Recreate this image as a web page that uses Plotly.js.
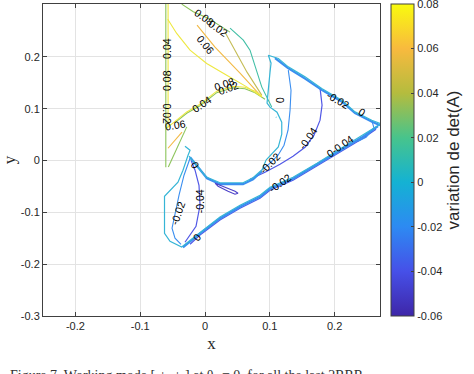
<!DOCTYPE html>
<html>
<head>
<meta charset="utf-8">
<script src="https://cdn.plot.ly/plotly-3.0.1.min.js"></script>
<style>html,body{margin:0;padding:0;background:#fff;}#chart{width:474px;height:374px;}</style>
</head>
<body>
<div id="chart"></div>
<script>
// ---- contour lines (data units, null = break) ----
const lvl008_x = [-0.057,-0.057,-0.059, null, -0.0575,-0.0437,-0.0231,0.0026,0.0335,0.0644,0.0875, null, -0.0591,-0.0463,-0.0282,-0.0077,0.0181,0.0432,0.0617,0.0772,0.088];
const lvl008_y = [0.302,0.065,0.0624, null, 0.2725,0.2452,0.2129,0.1873,0.1647,0.1421,0.1228, null, 0.0624,0.0759,0.0938,0.1087,0.1338,0.1434,0.1415,0.1338,0.1241];

const lvl006_x = [-0.0123,0.0154,0.054,0.0875, null, -0.0571,-0.0463,-0.0355];
const lvl006_y = [0.2612,0.2187,0.1685,0.1228, null, 0.0237,0.0392,0.0546];

const lvl004_x = [0.0309,0.0478,0.0648,0.0875];
const lvl004_y = [0.2477,0.2091,0.1705,0.1261];

const lvl002_x = [-0.0605,-0.0605, null, -0.0566,-0.0448,-0.034,-0.0282, null, -0.036,-0.0181,0.0046,0.0335,0.0386, null, -0.0463,-0.0282,-0.0077,0.0181,0.0432,0.0617,0.0772,0.0926];
const lvl002_y = [0.302,-0.0129, null, -0.0124,0.0199,0.0488,0.0649, null, 0.3017,0.2869,0.2747,0.2516,0.2477, null, 0.073,0.0913,0.1058,0.1309,0.1405,0.1386,0.1309,0.1183];

const lvl001_x = [0.0386,0.0591,0.0694,0.0772,0.0875,0.0977,0.1029];
const lvl001_y = [0.2555,0.2322,0.2129,0.1807,0.1421,0.1164,0.1035];

const lvl000_x = [0.2701,0.2573,0.2315,0.2110,0.1801,0.1543,0.1285,0.1131,0.0977,0.1019,0.1003,0.0977,0.0957,0.1003,0.1111,0.1184,0.1184,0.1131,0.1049,0.0941, null,
  -0.0309,-0.0231,-0.0262,-0.034,-0.0417,-0.0571,-0.0625,-0.0625,-0.054,-0.036,-0.0185,-0.0077,0.0231,0.054,0.0849,0.1003,0.1358,0.1728,0.213,0.2438,0.2701, null,
  -0.0247,-0.0123,0.0015,0.0231,0.0586,0.0741,0.088,0.0941, null, 0.1096,0.1100];
const lvl000_y = [0.0714,0.0778,0.0938,0.1164,0.139,0.1614,0.1807,0.1969,0.2032,0.1878,0.1705,0.139,0.1106,0.1029,0.0932,0.074,0.0508,0.0263,0.016,0.0006, null,
  0.0276,0.0199,0.0102,-0.0187,-0.0419,-0.0612,-0.0689,-0.1403,-0.1558,-0.1668,-0.15,-0.1378,-0.1089,-0.0863,-0.067,-0.0515,-0.0322,-0.0052,0.0257,0.0488,0.0701, null,
  0.0083,-0.0110,-0.0313,-0.0429,-0.0429,-0.0332,-0.0178,0.0006, null, 0.0842,0.0832];

const lvlm002_thin_x = [0.1285,0.1327,0.1312,0.1281,0.1219,0.1127,0.1003,0.088, null, 0.2577,0.2608,0.2485,0.2361, null, -0.0231,-0.0324,-0.0401,-0.0448,-0.0509,-0.0463,-0.037];
const lvlm002_thin_y = [0.1743,0.1357,0.0971,0.0585,0.0295,0.0102,-0.0052,-0.0187, null, 0.0757,0.0624,0.045,0.0373, null, 0.0044,-0.0284,-0.067,-0.0959,-0.1307,-0.15,-0.1616];

const lvlm002_thick_x = [0.108,0.1281,0.1543,0.1806,0.2114,0.2315,0.2577,0.2701, null, -0.0231,-0.0108,0.0031,0.0231,0.0586,0.0741,0.088, null, -0.034,-0.0077,0.0231,0.054,0.0849,0.1003,0.1358,0.1728,0.213,0.2438,0.267];
const lvlm002_thick_y = [0.1975,0.1782,0.1579,0.1357,0.1135,0.0913,0.0749,0.068, null, 0.0064,-0.0129,-0.0342,-0.0457,-0.0457,-0.0361,-0.0207, null, -0.1674,-0.1407,-0.1118,-0.0892,-0.0699,-0.0544,-0.0351,-0.0081,0.0228,0.0459,0.0662];

const lvlm004_x = [0.1775,0.1806,0.1775,0.1682,0.1543,0.1358,0.1157,0.0926,0.0694, null, -0.0216,-0.0154,-0.0093,-0.0077,-0.0139,-0.0247,-0.0309, null, -0.0231,-0.0077,0.0231,0.054,0.0849,0.1003,0.1358,0.1728,0.213,0.2438,0.2639];
const lvlm004_y = [0.1396,0.1068,0.0778,0.0488,0.0257,0.0083,-0.0071,-0.0226,-0.0361, null, 0.0006,-0.0187,-0.0477,-0.0863,-0.1268,-0.148,-0.1577, null, -0.1616,-0.1436,-0.1147,-0.0921,-0.0728,-0.0573,-0.038,-0.011,0.0199,0.043,0.0604];

const lvlm005_x = [0.0154,0.0309,0.0463,0.0509,0.0463,0.0355,0.0201,0.0154];
const lvlm005_y = [-0.0438,-0.0515,-0.0592,-0.0631,-0.065,-0.0592,-0.0496,-0.0438];

// ---- contour labels ----
const labelText  = ['0.04','0.08','0.02','0.06','0.04','0.08','0.02','0.08','0.02','0.06','0','-0.02','0','-0.04','0-0.04','-0.02','-0.02','0','-0.02','-0.04','0'];
const labelX     = [-0.0591,-0.0591,-0.0591,-0.0448,-0.0051,0.0293,0.0355,-0.0015,0.0201,0.0015,0.1157,0.2052,0.2423,0.159,0.2083,0.1003,0.1157,-0.0154,-0.0417,-0.0077,-0.0123];
const labelY     = [0.2168,0.1550,0.0894,0.0681,0.1100,0.1473,0.1396,0.2766,0.2554,0.2226,0.1164,0.1164,0.0932,0.043,0.0276,-0.0052,-0.0438,-0.0091,-0.1017,-0.0786,-0.1481];
const labelAngle = [-90,-90,90,-10,-35,-20,-20,35,35,50,90,30,30,-55,-35,-45,-35,60,-70,-90,-50];

// ---- axes / colorbar ----
const xTicks = [-0.2,-0.1,0,0.1,0.2];
const xTickText = ['-0.2','-0.1','0','0.1','0.2'];
const yTicks = [-0.3,-0.2,-0.1,0,0.1,0.2];
const yTickText = ['-0.3','-0.2','-0.1','0','0.1','0.2'];
const cbTicks = [-0.06,-0.04,-0.02,0,0.02,0.04,0.06,0.08];
const cbTickText = ['-0.06','-0.04','-0.02','0','0.02','0.04','0.06','0.08'];

const parula = [
  [0.0,'#3E26A8'],[0.143,'#4650E8'],[0.286,'#2D8AF2'],[0.429,'#14B2D3'],
  [0.571,'#47C48C'],[0.714,'#B4BC3E'],[0.857,'#F8BA3E'],[1.0,'#F9FB0E']
];

function line(x, y, color, width) {
  return {type:'scatter', mode:'lines', x:x, y:y, connectgaps:false,
          line:{color:color, width:width}, hoverinfo:'skip', showlegend:false};
}

const traces = [
  line(lvl002_x, lvl002_y, '#8CC45A', 1.1),
  line(lvl001_x, lvl001_y, '#42BFA6', 1.1),
  line(lvl004_x, lvl004_y, '#C4BC55', 1.1),
  line(lvl006_x, lvl006_y, '#F2B944', 1.1),
  line(lvl008_x, lvl008_y, '#EEE840', 1.1),
  line(lvlm004_x, lvlm004_y, '#5158E6', 1.2),
  line(lvlm002_thick_x, lvlm002_thick_y, '#3A8EF0', 2.2),
  line(lvlm002_thin_x, lvlm002_thin_y, '#3A8EF0', 1.1),
  line(lvl000_x, lvl000_y, '#36B5D6', 1.2),
  line(lvlm005_x, lvlm005_y, '#4B40C8', 1.1),
  {type:'scatter', mode:'markers', x:[-1], y:[-1], hoverinfo:'skip', showlegend:false,
   marker:{color:[0], cmin:-0.06, cmax:0.08, colorscale:parula, showscale:true, size:1,
     colorbar:{x:1.0326, xanchor:'left', xpad:0, y:0.5, yanchor:'middle', ypad:0,
       len:1, lenmode:'fraction', thickness:23, thicknessmode:'pixels',
       outlinewidth:1, outlinecolor:'#404040', ticklabeloverflow:'allow',
       tickvals:cbTicks, ticktext:cbTickText, ticks:'inside', ticklen:3, tickcolor:'#404040',
       tickfont:{family:'Liberation Sans, Arial, sans-serif', size:11, color:'#262626'},
       title:{text:'variation de det(A)', side:'right',
              font:{family:'Liberation Sans, Arial, sans-serif', size:17, color:'#262626'}}}}}
];

const annotations = labelText.map((t,i)=>({
  x:labelX[i], y:labelY[i], xref:'x', yref:'y', text:t, showarrow:false,
  textangle:labelAngle[i], font:{family:'Liberation Sans, Arial, sans-serif', size:10.5, color:'#000'}
}));
annotations.push({
  xref:'paper', yref:'paper', x:-0.1039, y:-0.1603, xanchor:'left', yanchor:'top',
  showarrow:false, align:'left',
  text:'Figure 7. Working mode [ +  + ] at θ<sub>1</sub> = 0, for all the last 2RRR',
  font:{family:'Liberation Serif, Times New Roman, serif', size:14, color:'#333'}
});

const axisCommon = {
  ticks:'inside', ticklen:4, tickcolor:'#404040', showline:true, mirror:'ticks',
  linecolor:'#404040', linewidth:1, showgrid:true, gridcolor:'#e3e3e3', gridwidth:1,
  zeroline:false, fixedrange:true,
  tickfont:{family:'Liberation Sans, Arial, sans-serif', size:11, color:'#262626'}
};

const layout = {
  width:474, height:374, margin:{l:43, r:94, t:4, b:58},
  paper_bgcolor:'#fff', plot_bgcolor:'#fff', showlegend:false,
  xaxis:Object.assign({}, axisCommon, {range:[-0.25,0.27], tickvals:xTicks, ticktext:xTickText,
     title:{text:'x', standoff:5, font:{family:'Liberation Serif, Times New Roman, serif', size:17, color:'#262626'}}}),
  yaxis:Object.assign({}, axisCommon, {range:[-0.3,0.302], tickvals:yTicks, ticktext:yTickText,
     title:{text:'y', standoff:3, font:{family:'Liberation Serif, Times New Roman, serif', size:17, color:'#262626'}}}),
  annotations:annotations
};

Plotly.newPlot('chart', traces, layout, {staticPlot:true, displayModeBar:false});
</script>
</body>
</html>
